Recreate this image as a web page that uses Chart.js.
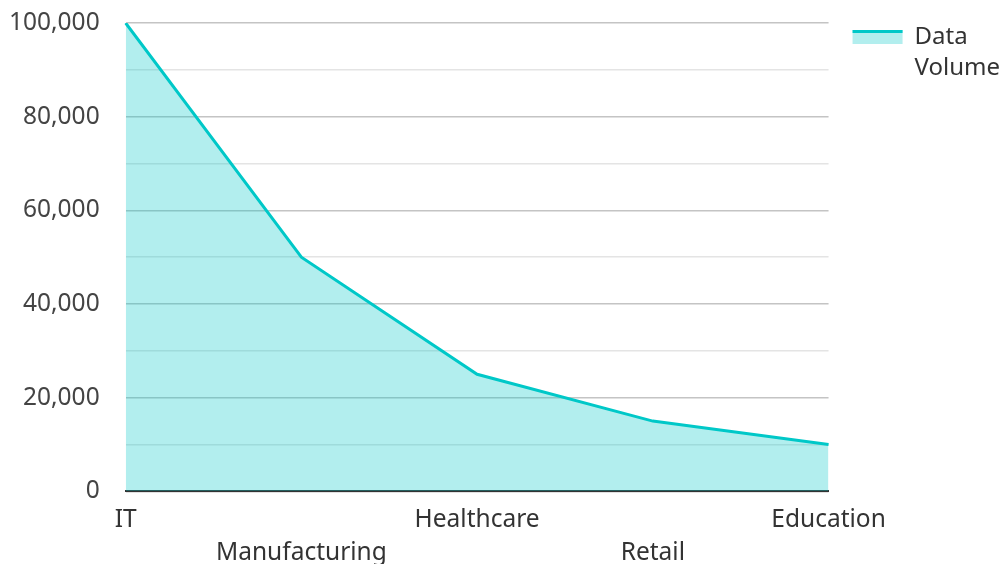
<!DOCTYPE html>
<html>
<head>
<meta charset="utf-8">
<script src="https://cdn.jsdelivr.net/npm/chart.js@4/dist/chart.umd.min.js"></script>
<style>
  html, body { margin: 0; padding: 0; background: #fff; }
  #wrap { width: 1002px; height: 564px; position: relative; }
</style>
</head>
<body>
<div id="wrap"><canvas id="chart"></canvas></div>
<script>
// Dados do gráfico
const categories = ['IT', 'Manufacturing', 'Healthcare', 'Retail', 'Education'];
const dataVolume = [100000, 50000, 25000, 15000, 10000];
const seriesLabel = ['Data', 'Volume'];
const yTicks = [0, 20000, 40000, 60000, 80000, 100000];

const LINE_COLOR = '#00c8c8';
const FILL_COLOR = 'rgba(0, 200, 200, 0.3)';
const FONT_SIZE = 24.5;
const LEGEND_FONT = 24;

const fmt = (v) => new Intl.NumberFormat('en-US').format(v);

// Linha no topo da caixa da legenda (como no original)
const legendLinePlugin = {
  id: 'legendLine',
  afterDraw(chart) {
    const lg = chart.legend;
    if (!lg || !lg.legendHitBoxes || !lg.legendHitBoxes.length) return;
    const hb = lg.legendHitBoxes[0];
    const boxW = lg.options.labels.boxWidth;
    const boxH = lg.options.labels.boxHeight;
    const top = hb.top + Math.max((LEGEND_FONT - boxH) / 2, 0);
    const c = chart.ctx;
    c.save();
    c.strokeStyle = LINE_COLOR;
    c.lineWidth = 3;
    c.beginPath();
    c.moveTo(hb.left, top + 1.5);
    c.lineTo(hb.left + boxW, top + 1.5);
    c.stroke();
    c.restore();
  }
};

const ctx = document.getElementById('chart');
new Chart(ctx, {
  type: 'line',
  data: {
    labels: categories,
    datasets: [{
      label: seriesLabel,
      data: dataVolume,
      borderColor: LINE_COLOR,
      backgroundColor: FILL_COLOR,
      borderWidth: 3,
      fill: 'origin',
      pointRadius: 0,
      tension: 0
    }]
  },
  plugins: [legendLinePlugin],
  options: {
    responsive: true,
    maintainAspectRatio: false,
    animation: false,
    layout: { padding: { top: 1, right: -8, bottom: -17, left: -17 } },
    plugins: {
      tooltip: { enabled: false },
      legend: {
        position: 'right',
        align: 'start',
        labels: {
          boxWidth: 50,
          boxHeight: 14,
          padding: 24,
          color: '#333',
          font: { family: 'Noto Sans', size: LEGEND_FONT, lineHeight: 1.3 },
          generateLabels: function(chart) {
            const items = Chart.defaults.plugins.legend.labels.generateLabels(chart);
            items.forEach(it => { it.lineWidth = 0; it.fillStyle = FILL_COLOR; });
            return items;
          }
        }
      }
    },
    scales: {
      x: {
        offset: false,
        grid: { display: false, drawTicks: false },
        border: { display: true, color: '#333', width: 2 },
        ticks: {
          autoSkip: false,
          maxRotation: 0,
          padding: 12,
          color: '#333',
          font: { family: 'Noto Sans', size: FONT_SIZE, lineHeight: 1.34 },
          callback: function(value, index) {
            const lbl = categories[index];
            return index % 2 === 1 ? ['', lbl] : lbl;
          }
        }
      },
      y: {
        min: 0,
        max: 100000,
        border: { display: false },
        afterFit: function(scale) {
          // espaço no topo só para metade do rótulo 100,000
          scale.paddingTop = 23;
        },
        grid: {
          drawTicks: false,
          color: (c) => (c.tick && c.tick.value % 20000 === 0) ? '#c4c4c4' : '#e4e4e4',
          lineWidth: 1.5
        },
        ticks: {
          stepSize: 10000,
          padding: 26,
          color: '#444',
          font: { family: 'Noto Sans', size: FONT_SIZE },
          callback: function(value) {
            return yTicks.includes(value) ? fmt(value) : '';
          }
        }
      }
    }
  }
});
</script>
</body>
</html>
